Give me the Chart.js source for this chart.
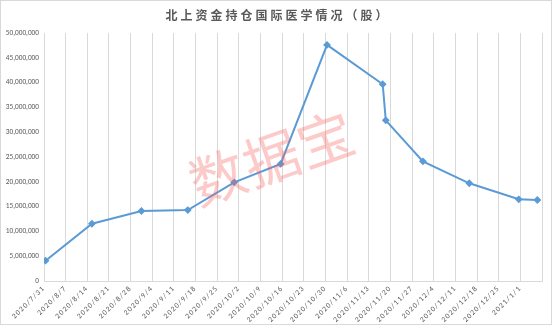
<!DOCTYPE html>
<html>
<head>
<meta charset="utf-8">
<script src="https://cdn.jsdelivr.net/npm/chart.js@4/dist/chart.umd.min.js"></script>
<style>
  html, body { margin: 0; padding: 0; background: #fff; }
  canvas { display: block; }
</style>
</head>
<body>
<canvas id="chart" width="552" height="325"></canvas>
<script>
const chartTitle = '北上资金持仓国际医学情况（股）';
const watermark = '数据宝';

// dates of the holdings records and shares held
const dates = ['2020/7/31', '2020/8/15', '2020/8/31', '2020/9/15', '2020/9/30', '2020/10/15',
  '2020/10/30', '2020/11/17', '2020/11/18', '2020/11/30', '2020/12/15', '2020/12/31', '2021/1/6'];
const holdings = [4100000, 11550000, 14110000, 14300000, 19900000, 23600000,
  47600000, 39660000, 32400000, 24130000, 19700000, 16470000, 16330000];

// weekly axis labels
const weekLabels = ['2020/7/31', '2020/8/7', '2020/8/14', '2020/8/21', '2020/8/28', '2020/9/4',
  '2020/9/11', '2020/9/18', '2020/9/25', '2020/10/2', '2020/10/9', '2020/10/16', '2020/10/23',
  '2020/10/30', '2020/11/6', '2020/11/13', '2020/11/20', '2020/11/27', '2020/12/4', '2020/12/11',
  '2020/12/18', '2020/12/25', '2021/1/1'];
const yTicks = [0, 5000000, 10000000, 15000000, 20000000, 25000000, 30000000, 35000000, 40000000, 45000000, 50000000];

const toUTC = (s) => {
  const [y, m, d] = s.split('/').map(Number);
  return Date.UTC(y, m - 1, d);
};
const startDay = toUTC(weekLabels[0]);
const dayOf = (s) => Math.round((toUTC(s) - startDay) / 86400000);

const gray = '#595959';
const gridGray = '#d9d9d9';

const decorations = {
  id: 'decorations',
  afterDraw(chart) {
    const { ctx, width, height } = chart;
    ctx.save();
    // watermark
    ctx.translate(272, 158);
    ctx.rotate(-19.5 * Math.PI / 180);
    ctx.font = '56px "Noto Sans CJK SC"';
    ctx.letterSpacing = '1px';
    ctx.fillStyle = 'rgba(250, 90, 90, 0.32)';
    ctx.textAlign = 'center';
    ctx.textBaseline = 'middle';
    ctx.fillText(watermark, 0, 0);
    ctx.restore();

    ctx.save();
    // title
    ctx.font = 'bold 12px "Noto Sans CJK SC"';
    ctx.letterSpacing = '3px';
    ctx.fillStyle = gray;
    ctx.textAlign = 'center';
    ctx.textBaseline = 'middle';
    ctx.fillText(chartTitle, width / 2 + 2, 15);
    // chart border
    ctx.letterSpacing = '0px';
    ctx.strokeStyle = gridGray;
    ctx.lineWidth = 1;
    ctx.strokeRect(0.5, 0.5, width - 1, height - 1);
    ctx.restore();
  },
};

new Chart(document.getElementById('chart').getContext('2d'), {
  type: 'line',
  data: {
    datasets: [{
      label: chartTitle,
      data: dates.map((d, i) => ({ x: dayOf(d) + 0.5, y: holdings[i] })),
      borderColor: '#5b9bd5',
      backgroundColor: '#5b9bd5',
      borderWidth: 2,
      pointStyle: 'rectRot',
      pointRadius: 2.5,
      tension: 0,
    }],
  },
  options: {
    responsive: false,
    animation: false,
    devicePixelRatio: 1,
    layout: { padding: { top: 33, right: 10, left: 0, bottom: 0 } },
    plugins: {
      legend: { display: false },
      tooltip: { enabled: false },
    },
    scales: {
      x: {
        type: 'linear',
        min: 0,
        max: weekLabels.length * 7,
        afterBuildTicks: (scale) => {
          scale.ticks = Array.from({ length: weekLabels.length + 1 }, (_, i) => ({ value: i * 7 }));
        },
        afterFit: (scale) => {
          scale.height = 44;
          // the date labels are spaced out a little
          const drawLabels = scale.drawLabels;
          scale.drawLabels = function (area) {
            this.ctx.save();
            this.ctx.letterSpacing = '1.2px';
            drawLabels.call(this, area);
            this.ctx.restore();
          };
        },
        ticks: {
          autoSkip: false,
          minRotation: 45,
          maxRotation: 45,
          padding: 3,
          color: gray,
          font: { size: 7.5, family: 'Carlito' },
          callback: (value) => weekLabels[value / 7] || '',
        },
        grid: { color: gridGray, drawTicks: false },
        border: { color: gridGray },
      },
      y: {
        min: 0,
        max: 50000000,
        afterBuildTicks: (scale) => {
          scale.ticks = yTicks.map((v) => ({ value: v }));
        },
        afterFit: (scale) => { scale.width = 44; },
        ticks: {
          padding: 5,
          color: gray,
          font: { size: 7.3, family: 'Carlito' },
          callback: (value) => new Intl.NumberFormat('en-US').format(value),
        },
        grid: { display: false, drawTicks: false },
        border: { display: false },
      },
    },
  },
  plugins: [decorations],
});
</script>
</body>
</html>
